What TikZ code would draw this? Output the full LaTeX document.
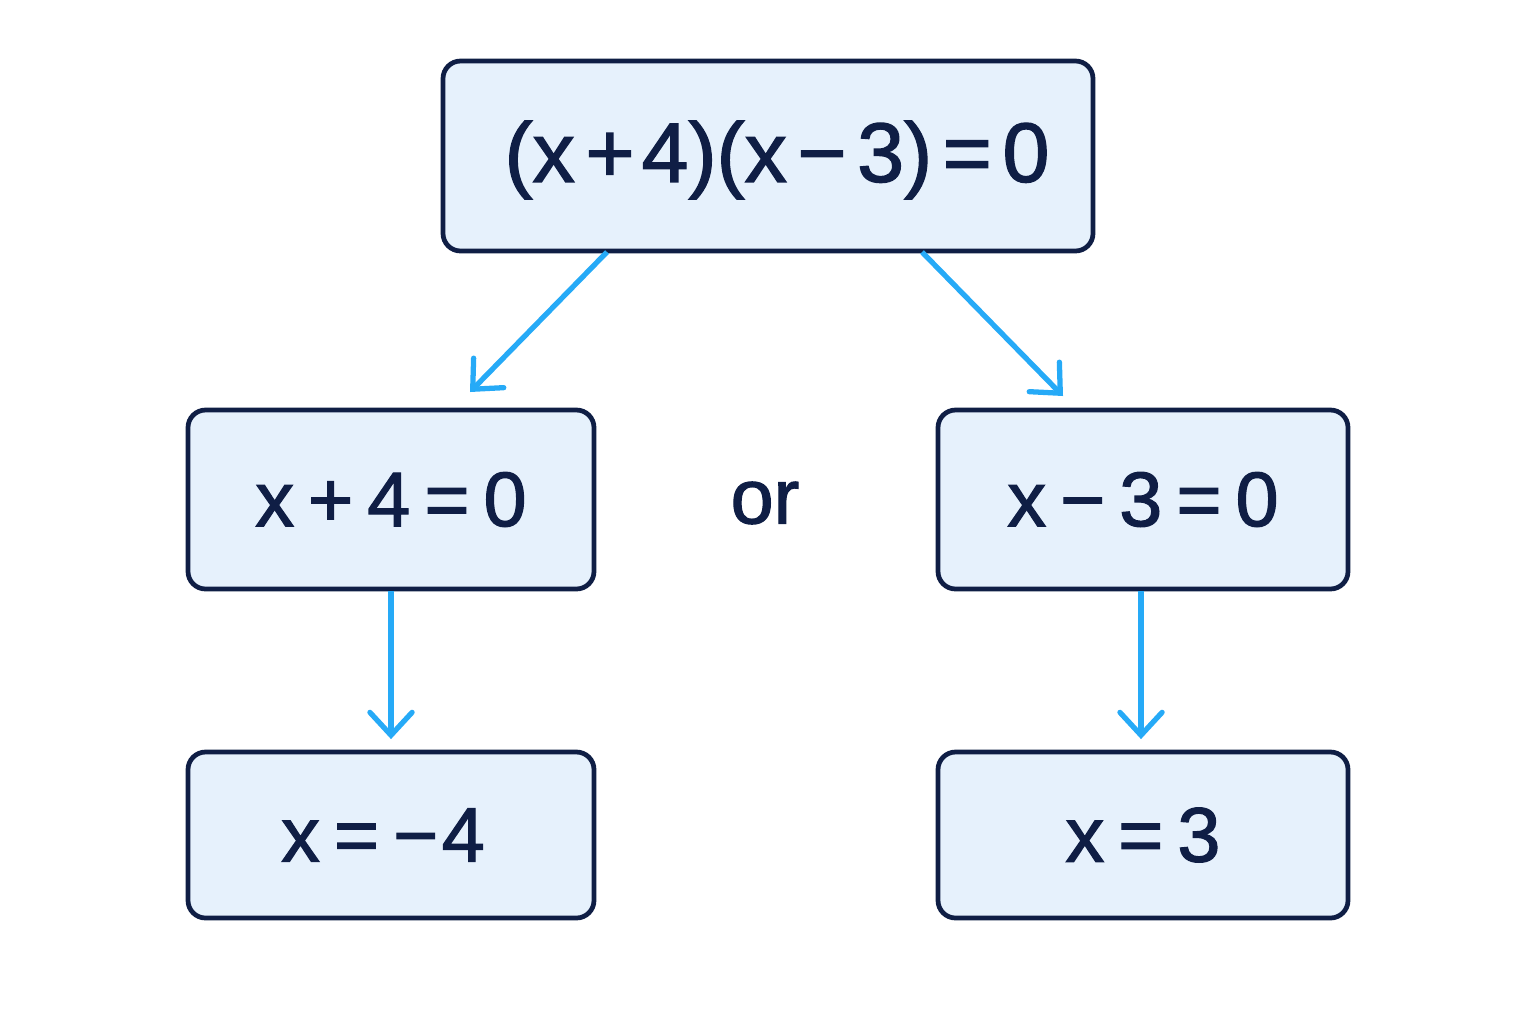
\documentclass[tikz,border=0pt]{standalone}
\usepackage{fontspec}
\setmainfont{Liberation Sans}
\newfontfamily\eqfont{Liberation Sans}[FakeBold=1.6]
\usetikzlibrary{arrows.meta}
\definecolor{navy}{HTML}{0F1E45}
\definecolor{boxfill}{HTML}{E6F1FC}
\definecolor{arrowblue}{HTML}{26AAF7}
\begin{document}
\begin{tikzpicture}[x=1cm,y=1cm,
  box/.style={draw=navy, line width=1.35pt, fill=boxfill, rounded corners=5pt, text=navy, inner sep=0pt},
  arr/.style={draw=arrowblue, line width=1.5pt, -{Straight Barb[length=6.5pt,width=12pt,line width=1.5pt,line cap=round]}},
  big/.style={font=\eqfont\fontsize{24}{28}\selectfont},
  mid/.style={font=\eqfont\fontsize{22}{26}\selectfont},
]
\useasboundingbox (0,0) rectangle (15.36,-10.24);
\node[box, minimum width=6.50cm, minimum height=1.90cm] (top) at (7.68,-1.56) {};
\node[big, text=navy] (toptext) at (7.77,-1.60) {(x\kern3pt+\kern2pt4)(x\kern3pt−\kern3pt3)\kern3pt=\kern3pt0};
\node[box, mid, minimum width=4.06cm, minimum height=1.79cm] (l1) at (3.91,-4.995) {x\kern4pt+\kern4pt4\kern4pt=\kern4pt0};
\node[box, mid, minimum width=4.10cm, minimum height=1.79cm] (r1) at (11.43,-4.995) {x\kern4pt−\kern4pt3\kern4pt=\kern4pt0};
\node[box, minimum width=4.06cm, minimum height=1.66cm] (l2) at (3.91,-8.35) {};
\node[mid, text=navy] (l2text) at (3.83,-8.35) {x\kern4pt=\kern4pt−\kern1pt4};
\node[box, mid, minimum width=4.10cm, minimum height=1.66cm] (r2) at (11.43,-8.35) {x\kern4pt=\kern4pt3};
\node[mid, text=navy] (or) at (7.65,-5.03) {or};
\coordinate (s1) at (6.07,-2.52);
\coordinate (e1) at (4.70,-3.92);
\coordinate (s2) at (9.22,-2.52);
\coordinate (e2) at (10.63,-3.96);
\draw[arr] (s1) -- (e1);
\draw[arr] (s2) -- (e2);
\draw[arr] (l1.south) -- ([yshift=3pt]l2.north);
\draw[arr] (r1.south -| 11.41,0) -- ([yshift=3pt]r2.north -| 11.41,0);
\end{tikzpicture}
\end{document}
